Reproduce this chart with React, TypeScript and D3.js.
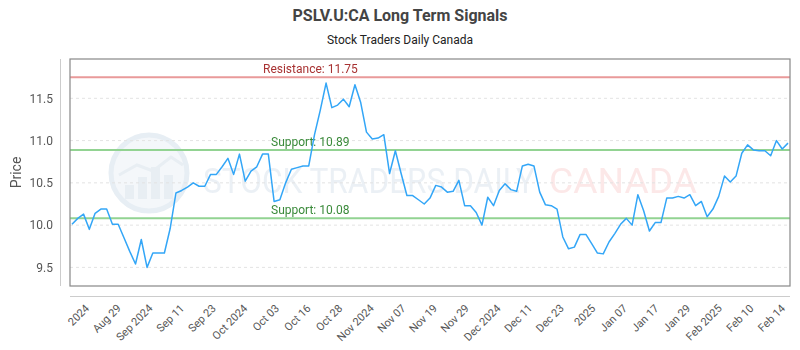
import React, { useLayoutEffect, useRef, useState } from 'react';
import * as d3 from 'd3';

// closing prices, one per trading day
const prices = [
  10.01, 10.08, 10.13, 9.95, 10.14, 10.19, 10.19, 10.01, 10.01, 9.85,
  9.69, 9.54, 9.83, 9.5, 9.67, 9.67, 9.67, 9.96, 10.38, 10.41,
  10.45, 10.5, 10.46, 10.46, 10.6, 10.6, 10.69, 10.79, 10.6, 10.84,
  10.52, 10.64, 10.69, 10.84, 10.84, 10.28, 10.3, 10.5, 10.66, 10.68,
  10.7, 10.7, 11.07, 11.36, 11.68, 11.39, 11.42, 11.49, 11.4, 11.66,
  11.45, 11.1, 11.02, 11.03, 11.07, 10.61, 10.88, 10.61, 10.35, 10.35,
  10.3, 10.25, 10.32, 10.47, 10.45, 10.39, 10.4, 10.53, 10.23, 10.23,
  10.15, 10.0, 10.33, 10.23, 10.41, 10.49, 10.42, 10.4, 10.7, 10.72,
  10.7, 10.39, 10.24, 10.23, 10.19, 9.86, 9.72, 9.74, 9.89, 9.89,
  9.78, 9.67, 9.66, 9.8, 9.9, 10.01, 10.08, 10.0, 10.36, 10.17,
  9.93, 10.03, 10.03, 10.32, 10.32, 10.34, 10.32, 10.36, 10.23, 10.28,
  10.1, 10.19, 10.34, 10.58, 10.51, 10.58, 10.85, 10.95, 10.89, 10.88,
  10.88, 10.82, 11.0, 10.9, 10.97,
];

const xLabels = [
  '2024', 'Aug 29', 'Sep 2024', 'Sep 11', 'Sep 23', 'Oct 2024', 'Oct 03', 'Oct 16',
  'Oct 28', 'Nov 2024', 'Nov 07', 'Nov 19', 'Nov 29', 'Dec 2024', 'Dec 11', 'Dec 23',
  '2025', 'Jan 07', 'Jan 17', 'Jan 29', 'Feb 2025', 'Feb 10', 'Feb 14',
];

const yTicks = [9.5, 10.0, 10.5, 11.0, 11.5];
const resistanceLevels = [11.75];
const supportLevels = [10.89, 10.08];

const W = 800;
const H = 350;
const left = 70;
const right = 790;
const top = 59;
const bottom = 286;
const font = 'Roboto, "Noto Sans", sans-serif';

export default function App() {
  const x = d3.scaleLinear().domain([0, prices.length - 1]).range([left + 2, right - 2]);
  const y = d3.scaleLinear().domain([9.28, 11.965]).range([bottom, top]);
  const xl = d3.scalePoint<string>().domain(xLabels).range([90, 786]);

  const line = d3.line<number>()
    .x((_, i) => x(i))
    .y(d => y(d));

  // watermark text is squeezed horizontally to the widths seen in the picture
  const wmA = useRef<SVGTextElement>(null);
  const wmB = useRef<SVGTextElement>(null);
  const [sx, setSx] = useState<[number, number]>([0.8, 0.8]);
  useLayoutEffect(() => {
    const a = wmA.current?.getComputedTextLength() || 1;
    const b = wmB.current?.getComputedTextLength() || 1;
    setSx([332 / a, 148 / b]);
  }, []);

  // watermark logo geometry
  const cx = 149, cy = 173, r = 38;
  const bars = [0.35, 0.55, 0.8, 0.6];

  return (
    <svg width={W} height={H} style={{ position: 'absolute', left: 0, top: 0 }} fontFamily={font}>
      <rect width={W} height={H} fill="#fff" />

      {/* titles */}
      <text x={W / 2} y={21} textAnchor="middle" fontSize={16} fontWeight="bold" fill="#444">
        PSLV.U:CA Long Term Signals
      </text>
      <text x={W / 2} y={44} textAnchor="middle" fontSize={12} fill="#222">
        Stock Traders Daily Canada
      </text>

      {/* watermark */}
      <g opacity={0.85}>
        <circle cx={cx} cy={cy} r={r} fill="#f2f6fa" stroke="#e3ebf2" strokeWidth={5} />
        {bars.map((b, i) => (
          <rect key={i} x={cx - 24 + i * 13} y={cy + 26 - b * 40} width={9} height={b * 40} fill="#e4ebf1" />
        ))}
        <polyline
          points={`${cx - 30},${cy + 2} ${cx - 12},${cy - 8} ${cx + 4},${cy - 2} ${cx + 22},${cy - 16} ${cx + 34},${cy - 8}`}
          fill="none" stroke="#e4ebf1" strokeWidth={3}
        />
        <text ref={wmA} transform={`translate(203,193) scale(${sx[0]},1)`} fontSize={36} fill="#e8eef4">
          STOCK TRADERS DAILY
        </text>
        <text ref={wmB} transform={`translate(549,193) scale(${sx[1]},1)`} fontSize={36} fill="#fce4e4">
          CANADA
        </text>
      </g>

      {/* grid */}
      {yTicks.map(t => (
        <line key={t} x1={left} x2={right} y1={y(t)} y2={y(t)} stroke="#e3e3e3" strokeDasharray="3,3" />
      ))}

      {/* levels */}
      {resistanceLevels.map(v => (
        <g key={'r' + v}>
          <line x1={left} x2={right} y1={y(v)} y2={y(v)} stroke="#e99a9a" strokeWidth={2} />
          <text x={263} y={y(v) - 4} fontSize={12} fill="#a83232">Resistance: {v.toFixed(2)}</text>
        </g>
      ))}
      {supportLevels.map(v => (
        <g key={'s' + v}>
          <line x1={left} x2={right} y1={y(v)} y2={y(v)} stroke="#92d392" strokeWidth={2} />
          <text x={271} y={y(v) - 4} fontSize={12} fill="#3a8a3a">Support: {v.toFixed(2)}</text>
        </g>
      ))}

      {/* price line */}
      <path d={line(prices) || ''} fill="none" stroke="#33a6f7" strokeWidth={1.5} strokeLinejoin="round" />

      {/* frame */}
      <rect x={left} y={top} width={right - left} height={bottom - top} fill="none" stroke="#888" strokeWidth={1.2} />

      {/* y axis */}
      <line x1={60.5} x2={60.5} y1={top} y2={bottom} stroke="#ccc" />
      {yTicks.map(t => (
        <text key={t} x={53} y={y(t)} dy="0.35em" textAnchor="end" fontSize={12} fill="#555">
          {t.toFixed(1)}
        </text>
      ))}
      <text transform={`translate(21,${(top + bottom) / 2}) rotate(-90)`} textAnchor="middle" fontSize={14} fill="#555">
        Price
      </text>

      {/* x axis */}
      <line x1={left} x2={right} y1={296.5} y2={296.5} stroke="#ccc" />
      {xLabels.map(l => (
        <text
          key={l}
          transform={`translate(${xl(l)},309) rotate(-45)`}
          textAnchor="end"
          fontSize={11}
          fill="#555"
        >
          {l}
        </text>
      ))}
    </svg>
  );
}
